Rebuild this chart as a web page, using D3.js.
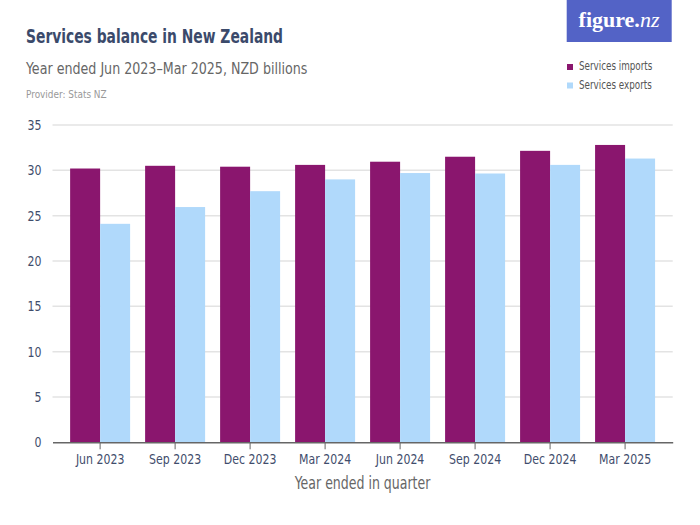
<!DOCTYPE html>
<html lang="en">
<head>
<meta charset="utf-8" />
<title>Services balance in New Zealand</title>
<script src="https://d3js.org/d3.v7.min.js"></script>
<style>
  body { margin: 0; background: #fff; }
  svg text { font-family: "DejaVu Sans Condensed", "DejaVu Sans", sans-serif; }
</style>
</head>
<body>
<div id="chart"></div>
<script>
// Data (NZD billions)
const quarters = ["Jun 2023", "Sep 2023", "Dec 2023", "Mar 2024", "Jun 2024", "Sep 2024", "Dec 2024", "Mar 2025"];
const imports = [30.2, 30.5, 30.4, 30.6, 30.95, 31.5, 32.15, 32.8];
const exports = [24.1, 25.95, 27.7, 29.0, 29.7, 29.65, 30.6, 31.3];
const seriesNames = ["Services imports", "Services exports"];
const yTicks = [0, 5, 10, 15, 20, 25, 30, 35];

const colors = ["#8a166e", "#b0d9fb"];
const width = 700, height = 525;

// squeeze text horizontally to imitate the narrow grotesque of the original
function condense(sel, k) {
    sel.each(function () {
        const w = this.getComputedTextLength();
        d3.select(this)
            .attr("textLength", w * k)
            .attr("lengthAdjust", "spacingAndGlyphs");
    });
}

const svg = d3.select("#chart").append("svg")
    .attr("width", width)
    .attr("height", height);

// plot area
const plot = { left: 52.5, right: 672.7, top: 125, bottom: 442.3 };

const x = d3.scaleBand()
    .domain(quarters)
    .range([plot.left, plot.right])
    .paddingInner(0.2)
    .paddingOuter(0.235);

const xSub = d3.scaleBand()
    .domain(seriesNames)
    .range([0, x.bandwidth()]);

const y = d3.scaleLinear()
    .domain([0, 35])
    .range([plot.bottom, plot.top]);

// gridlines
svg.append("g")
    .selectAll("line")
    .data(yTicks.filter(d => d > 0))
    .join("line")
    .attr("x1", plot.left)
    .attr("x2", plot.right)
    .attr("y1", d => y(d))
    .attr("y2", d => y(d))
    .attr("stroke", "#e3e3e3")
    .attr("stroke-width", 1.5);

// y axis labels
const yAxis = svg.append("g")
    .attr("transform", `translate(${plot.left},0)`)
    .call(d3.axisLeft(y).tickValues(yTicks).tickSize(0).tickPadding(11));
yAxis.select(".domain").remove();
yAxis.selectAll("text")
    .attr("fill", "#3f4d6c")
    .style("font-family", "'DejaVu Sans Condensed', sans-serif")
    .style("font-size", "14px")
    .call(condense, 0.87);

// bars
const rows = quarters.map((q, i) => ({ q, vals: [imports[i], exports[i]] }));
const groups = svg.append("g")
    .selectAll("g")
    .data(rows)
    .join("g")
    .attr("transform", d => `translate(${x(d.q)},0)`);

groups.selectAll("rect")
    .data(d => d.vals.map((v, j) => ({ name: seriesNames[j], v, j })))
    .join("rect")
    .attr("x", d => xSub(d.name))
    .attr("width", xSub.bandwidth())
    .attr("y", d => y(d.v))
    .attr("height", d => y(0) - y(d.v))
    .attr("fill", d => colors[d.j]);

// x axis
const xAxis = svg.append("g")
    .attr("transform", `translate(0,${plot.bottom})`)
    .call(d3.axisBottom(x).tickSize(7).tickSizeOuter(0).tickPadding(5));
xAxis.select(".domain").attr("stroke", "#666").attr("stroke-width", 1.5);
xAxis.selectAll(".tick line").attr("stroke", "#666");
xAxis.selectAll("text")
    .attr("fill", "#3f4d6c")
    .style("font-family", "'DejaVu Sans Condensed', sans-serif")
    .style("font-size", "14px")
    .call(condense, 0.87);

svg.append("text")
    .attr("x", (plot.left + plot.right) / 2)
    .attr("y", 489)
    .attr("text-anchor", "middle")
    .attr("fill", "#666")
    .style("font-size", "17px")
    .text("Year ended in quarter")
    .call(condense, 0.82);

// titles
svg.append("text")
    .attr("x", 26).attr("y", 43)
    .attr("fill", "#3b4a6b")
    .style("font-size", "20px")
    .style("font-weight", "bold")
    .text("Services balance in New Zealand")
    .call(condense, 0.77);

svg.append("text")
    .attr("x", 26).attr("y", 74)
    .attr("fill", "#666")
    .style("font-size", "16px")
    .text("Year ended Jun 2023\u2013Mar 2025, NZD billions")
    .call(condense, 0.88);

svg.append("text")
    .attr("x", 26).attr("y", 97.5)
    .attr("fill", "#999")
    .style("font-size", "11px")
    .text("Provider: Stats NZ")
    .call(condense, 0.9);

// logo
svg.append("rect")
    .attr("x", 566.7).attr("y", 0)
    .attr("width", 105).attr("height", 42)
    .attr("fill", "#5363c6");
svg.append("text")
    .attr("x", 619).attr("y", 27)
    .attr("text-anchor", "middle")
    .attr("fill", "#fff")
    .style("font-family", "'Liberation Serif', 'DejaVu Serif', serif")
    .style("font-size", "22px")
    .style("font-weight", "bold")
    .html("figure.<tspan font-style='italic' font-weight='normal'>nz</tspan>");

// legend
const legend = svg.append("g")
    .selectAll("g")
    .data(seriesNames)
    .join("g")
    .attr("transform", (d, i) => `translate(567,${64 + i * 18.5})`);
legend.append("rect")
    .attr("width", 6).attr("height", 6)
    .attr("fill", (d, i) => colors[i]);
legend.append("text")
    .attr("x", 12).attr("y", 6)
    .attr("fill", "#555")
    .style("font-size", "12.5px")
    .text(d => d)
    .call(condense, 0.78);
</script>
</body>
</html>
